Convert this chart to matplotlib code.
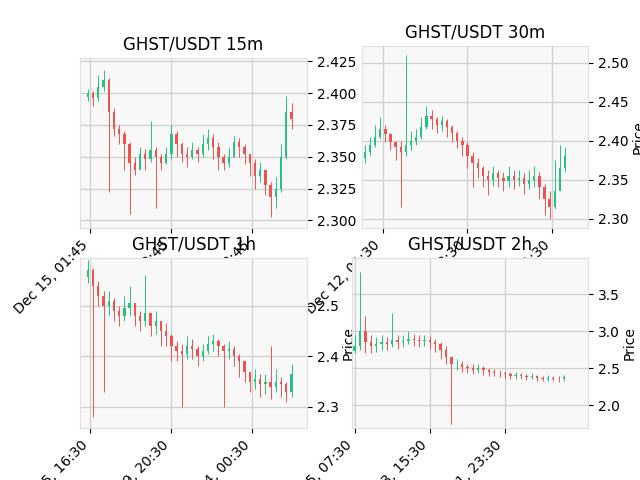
import matplotlib
matplotlib.use('Agg')
import matplotlib.pyplot as plt

# 15m
c1 = [2.400,2.396,2.405,2.410,2.385,2.372,2.368,2.360,2.345,2.340,2.352,2.348,2.355,2.350,2.345,2.352,2.368,2.360,2.352,2.350,
      2.355,2.352,2.360,2.365,2.358,2.350,2.345,2.350,2.362,2.358,2.352,2.345,2.335,2.340,2.328,2.318,2.325,2.350,2.385,2.380]
h1 = [2.403,2.402,2.414,2.418,2.412,2.388,2.375,2.370,2.362,2.350,2.358,2.356,2.378,2.358,2.352,2.358,2.375,2.370,2.362,2.358,
      2.362,2.358,2.368,2.372,2.368,2.362,2.352,2.358,2.366,2.365,2.360,2.352,2.348,2.346,2.340,2.330,2.334,2.360,2.398,2.392]
l1 = [2.394,2.390,2.394,2.402,2.322,2.366,2.360,2.340,2.305,2.336,2.344,2.340,2.346,2.310,2.340,2.344,2.348,2.350,2.346,2.342,
      2.348,2.346,2.350,2.355,2.348,2.340,2.340,2.342,2.350,2.350,2.344,2.335,2.325,2.330,2.320,2.303,2.310,2.322,2.348,2.372]
# 30m
c2 = [2.385,2.395,2.405,2.415,2.408,2.398,2.392,2.385,2.395,2.400,2.405,2.418,2.432,2.428,2.420,2.425,2.418,2.410,2.400,2.395,
      2.380,2.372,2.365,2.355,2.350,2.358,2.352,2.348,2.355,2.350,2.352,2.345,2.350,2.355,2.340,2.325,2.315,2.335,2.365,2.380]
h2 = [2.395,2.405,2.420,2.430,2.420,2.410,2.400,2.400,2.510,2.412,2.415,2.430,2.445,2.440,2.430,2.432,2.428,2.420,2.412,2.405,
      2.398,2.385,2.378,2.368,2.362,2.368,2.362,2.360,2.368,2.362,2.362,2.358,2.362,2.368,2.360,2.345,2.335,2.375,2.395,2.392]
l2 = [2.372,2.380,2.392,2.402,2.398,2.388,2.375,2.315,2.380,2.388,2.395,2.402,2.415,2.415,2.410,2.412,2.405,2.398,2.390,2.380,
      2.365,2.340,2.352,2.340,2.330,2.342,2.340,2.335,2.340,2.338,2.342,2.332,2.338,2.340,2.325,2.305,2.300,2.312,2.340,2.360]
# 1h
c3 = [2.570,2.540,2.520,2.500,2.510,2.490,2.480,2.495,2.505,2.480,2.470,2.485,2.460,2.470,2.450,2.440,2.420,2.410,2.405,2.420,
      2.415,2.400,2.410,2.425,2.430,2.420,2.410,2.415,2.400,2.390,2.370,2.350,2.355,2.345,2.350,2.340,2.350,2.345,2.330,2.365]
h3 = [2.590,2.575,2.550,2.530,2.530,2.515,2.500,2.520,2.540,2.505,2.490,2.560,2.480,2.490,2.470,2.465,2.445,2.430,2.425,2.440,
      2.435,2.420,2.425,2.440,2.445,2.435,2.425,2.430,2.420,2.405,2.390,2.370,2.375,2.365,2.365,2.420,2.375,2.360,2.350,2.385]
l3 = [2.545,2.280,2.500,2.330,2.480,2.470,2.460,2.470,2.480,2.460,2.450,2.460,2.440,2.445,2.420,2.420,2.390,2.390,2.300,2.395,
      2.395,2.380,2.390,2.405,2.410,2.400,2.300,2.395,2.380,2.360,2.350,2.330,2.335,2.320,2.325,2.315,2.330,2.320,2.310,2.320]
# 2h
c4 = [2.80,3.00,2.85,2.80,2.82,2.85,2.83,2.88,2.85,2.87,2.90,2.88,2.86,2.88,2.85,2.82,2.75,2.65,2.55,2.55,
      2.52,2.50,2.48,2.50,2.47,2.45,2.44,2.43,2.42,2.40,2.41,2.39,2.38,2.39,2.37,2.36,2.37,2.36,2.35,2.38]
h4 = [2.95,3.80,3.20,2.95,2.92,2.95,2.92,3.25,2.95,2.95,3.00,2.96,2.95,2.95,2.93,2.90,2.85,2.80,2.65,2.62,
      2.60,2.56,2.55,2.55,2.53,2.50,2.49,2.48,2.46,2.45,2.45,2.43,2.42,2.43,2.41,2.40,2.41,2.40,2.39,2.41]
l4 = [2.70,2.75,2.70,2.70,2.72,2.75,2.74,2.78,2.76,2.78,2.82,2.80,2.78,2.80,2.76,2.72,2.62,2.55,1.75,2.48,
      2.45,2.44,2.42,2.44,2.41,2.40,2.39,2.38,2.37,2.36,2.36,2.35,2.34,2.35,2.33,2.32,2.33,2.32,2.31,2.33]

titles = ['GHST/USDT 15m', 'GHST/USDT 30m', 'GHST/USDT 1h', 'GHST/USDT 2h']
xlabels = [['Dec 15, 01:45', 'Dec 15, 12:45', 'Dec 15, 23:45'],
           ['Dec 12, 01:30', 'Dec 13, 13:30', 'Dec 15, 01:30'],
           ['Dec 05, 16:30', 'Dec 09, 20:30', 'Dec 14, 00:30'],
           ['Nov 15, 07:30', 'Nov 23, 15:30', 'Dec 01, 23:30']]
xticks = [[0.5, 16, 31.5], [3.5, 20, 36.5], [0.5, 16, 31.5], [0, 14, 28]]
yticks = [[2.300, 2.325, 2.350, 2.375, 2.400, 2.425], [2.30, 2.35, 2.40, 2.45, 2.50],
          [2.3, 2.4, 2.5], [2.0, 2.5, 3.0, 3.5]]
ylims = [(2.294, 2.428), (2.288, 2.522), (2.258, 2.595), (1.69, 3.99)]
xlims = [(-1.5, 42), (-0.5, 43.5), (-1.5, 42), (-0.5, 43.5)]
boxes = [(0.125, 0.525, 0.355, 0.355), (0.566, 0.525, 0.353, 0.38),
         (0.125, 0.108, 0.355, 0.355), (0.55, 0.108, 0.369, 0.355)]
ylabs = [None, 'Price', 'Price', 'Price']
data = [(c1, h1, l1), (c2, h2, l2), (c3, h3, l3), (c4, h4, l4)]

up, down = '#26c281', '#ef5350'
fig = plt.figure(figsize=(6.4, 4.8), dpi=100)
for k in range(4):
    ax = fig.add_axes(boxes[k])
    c, h, l = data[k]
    o = [c[0] - (h[0] - l[0]) * 0.3] + c[:-1]
    for i in range(len(c)):
        col = up if c[i] >= o[i] else down
        ax.vlines(i, l[i], h[i], color=col, linewidth=0.7)
        ax.bar(i, abs(c[i] - o[i]) or 0.0005, bottom=min(c[i], o[i]), width=0.45, color=col, linewidth=0)
    ax.set_facecolor('#f8f8f8')
    ax.grid(True, color='#d0d0d0', linewidth=0.9)
    ax.set_axisbelow(True)
    for s in ax.spines.values():
        s.set_color('#e0e0e0')
    ax.yaxis.tick_right()
    ax.yaxis.set_label_position('right')
    if ylabs[k]:
        ax.set_ylabel(ylabs[k], labelpad=2)
    ax.set_xlim(*xlims[k])
    ax.set_ylim(*ylims[k])
    ax.set_xticks(xticks[k])
    ax.set_xticklabels(xlabels[k], rotation=45, ha='right')
    ax.set_yticks(yticks[k])
    if k == 0:
        ax.set_yticklabels(['%.3f' % v for v in yticks[k]])
    ax.set_title(titles[k])

fig.savefig('out.png', dpi=100)
